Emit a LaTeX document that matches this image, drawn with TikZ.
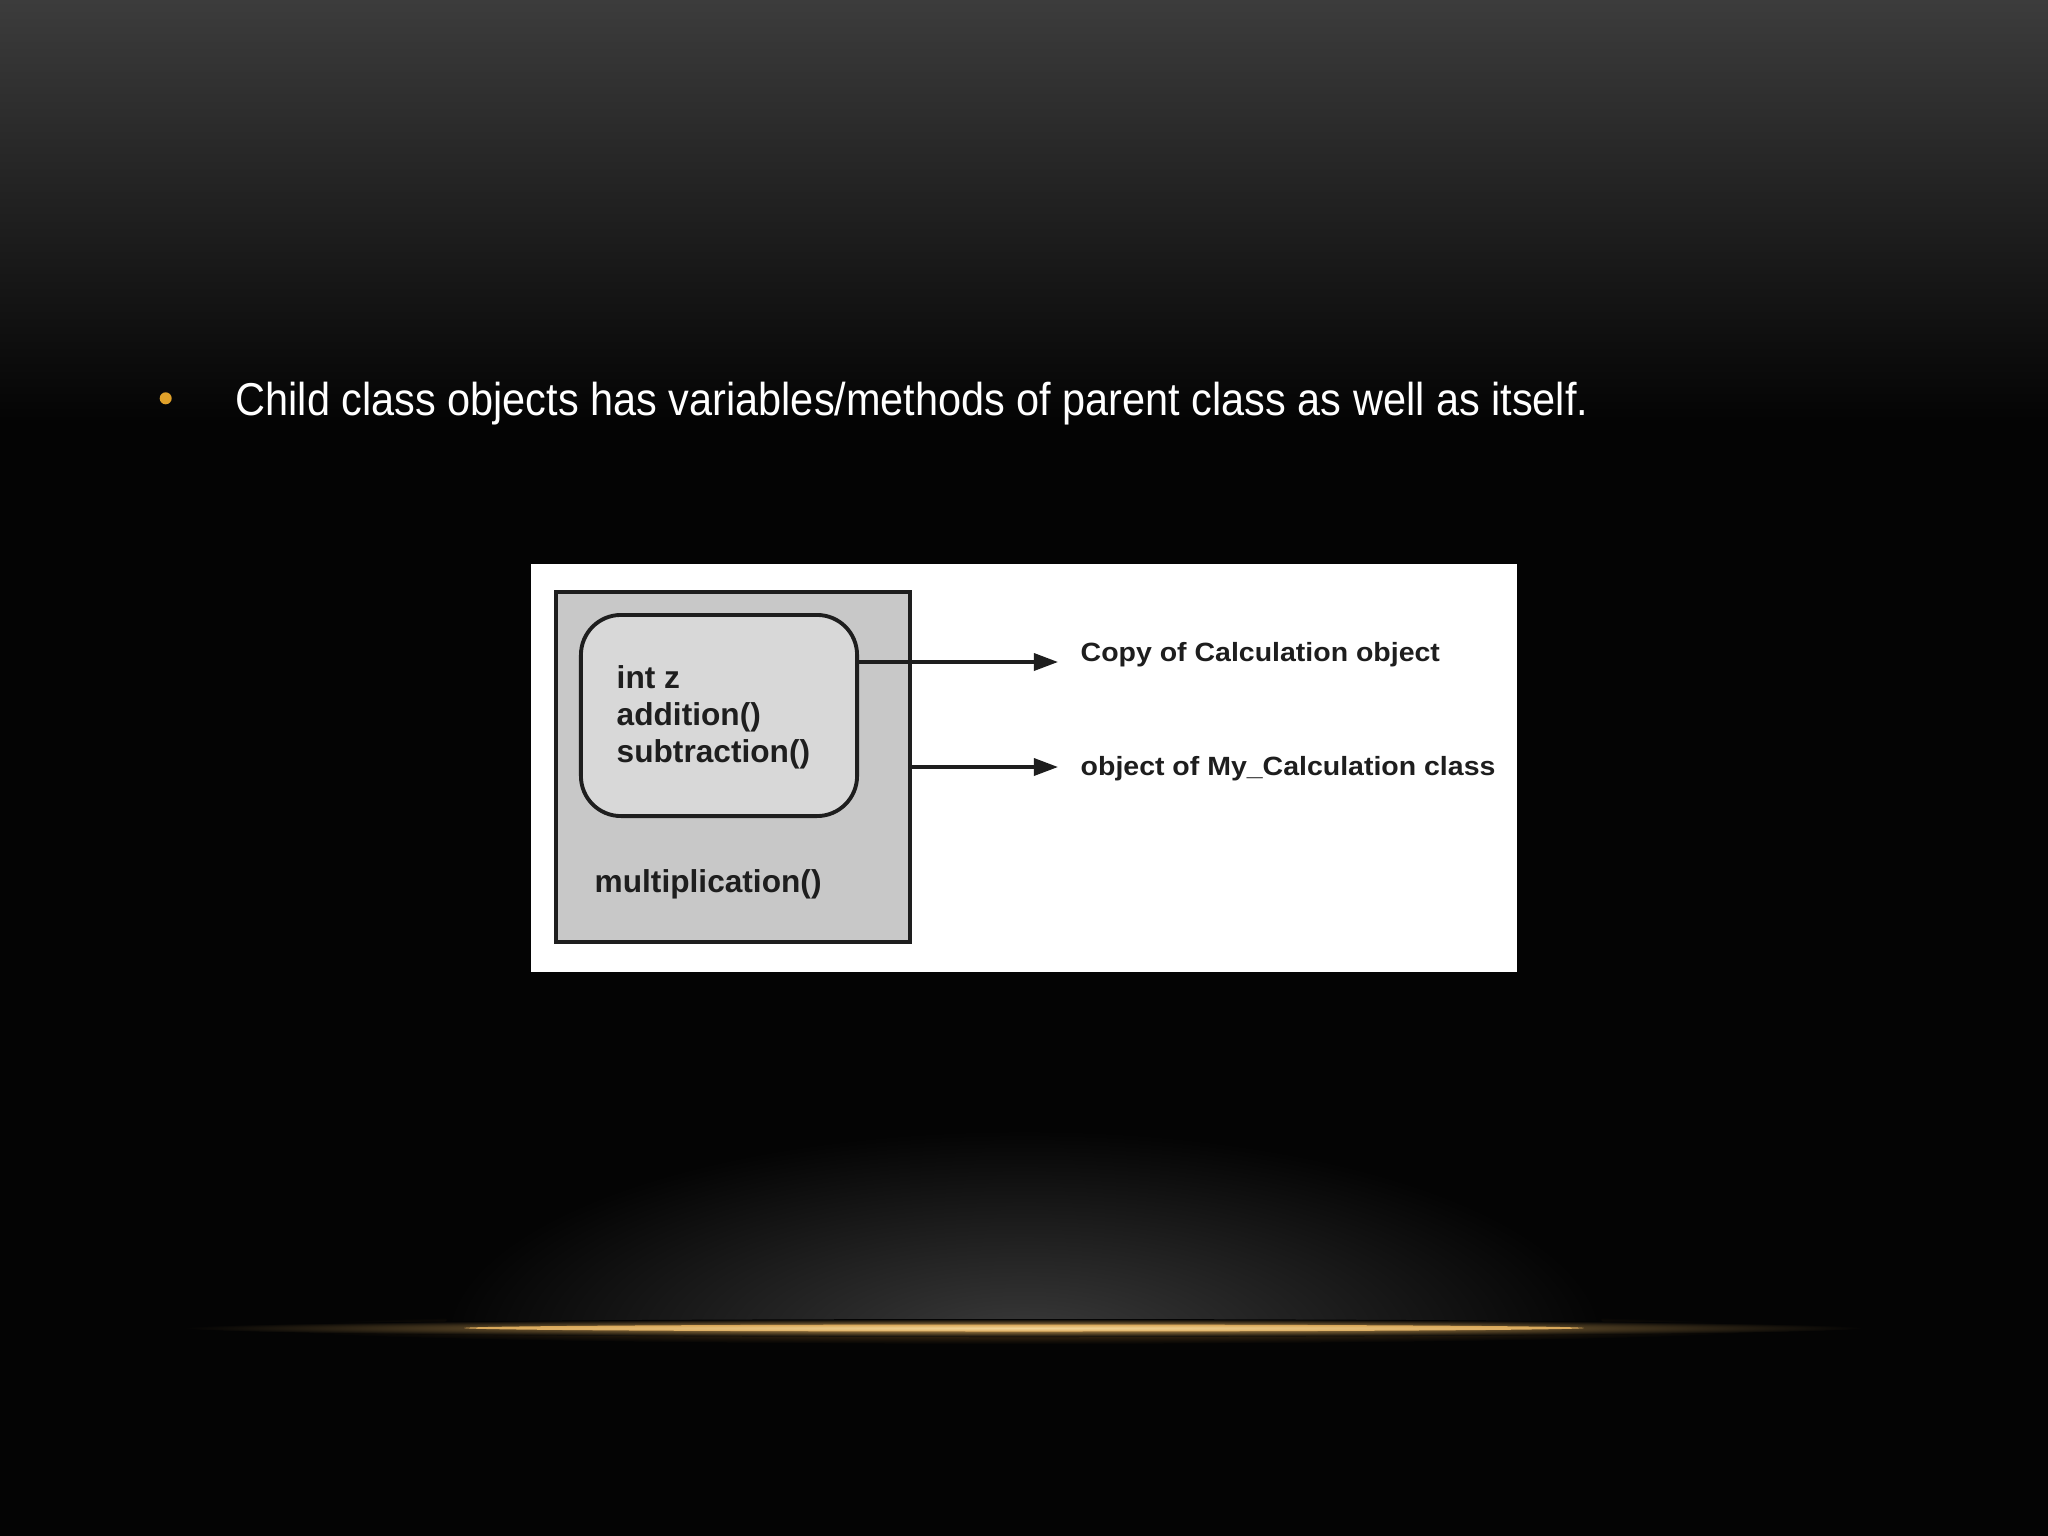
\documentclass[tikz,border=0pt]{standalone}
\usepackage{fontspec}
\setmainfont{Liberation Sans}
\newfontfamily\claimfont[FakeStretch=0.9]{Liberation Sans}
\newfontfamily\labelfont[FakeStretch=1.08]{Liberation Sans}
\usetikzlibrary{arrows.meta}

\definecolor{bgtop}{HTML}{3C3C3C}
\definecolor{bgmid}{HTML}{1C1C1C}
\definecolor{bgblack}{HTML}{040404}
\definecolor{glowgray}{HTML}{3A3A3A}
\definecolor{goldglow}{HTML}{5A3E1A}
\definecolor{goldline}{HTML}{D9A85A}
\definecolor{goldcore}{HTML}{F2D598}
\definecolor{bulletorange}{HTML}{E0A12A}
\definecolor{parentgray}{HTML}{C8C8C8}
\definecolor{childgray}{HTML}{D8D8D8}
\definecolor{edgeblack}{HTML}{1E1E1E}

\begin{document}
\begin{tikzpicture}[x=0.01cm, y=-0.01cm]
\tikzstyle{parent_box}=[rectangle, draw=edgeblack, fill=parentgray, line width=1.15pt, minimum width=3.54cm, minimum height=3.5cm];
\tikzstyle{child_box}=[rectangle, rounded corners=0.4cm, draw=edgeblack, fill=childgray, line width=1.1pt, minimum width=2.76cm, minimum height=2.01cm];
\tikzstyle{member}=[inner sep=0pt, text=edgeblack, font=\fontsize{9}{10.5}\selectfont\bfseries, align=left];
\tikzstyle{caption}=[inner sep=0pt, anchor=base west, text=edgeblack, font=\labelfont\fontsize{7.5}{9}\selectfont\bfseries];
\tikzstyle{arrow}=[-{Triangle[length=0.24cm, width=0.17cm]}, line width=0.95pt, draw=edgeblack];

% slide background
\useasboundingbox (0,0) rectangle (2048,1536);
\fill[bgblack] (0,0) rectangle (2048,1536);
\shade[top color=bgtop, middle color=bgmid, bottom color=bgblack] (0,0) rectangle (2048,420);

% glow over the gold line
\shade[inner color=goldglow, outer color=bgblack] (1024,1328) ellipse (760 and 16);
\begin{scope}
\clip (0,1000) rectangle (2048,1324);
\shade[inner color=glowgray, outer color=bgblack] (1024,1340) ellipse (580 and 210);
\end{scope}
\shade[inner color=goldline, outer color=bgblack] (1024,1328) ellipse (840 and 9);
\shade[inner color=goldcore, outer color=goldline] (1024,1328) ellipse (560 and 3.5);

% bullet
\node[circle, fill=bulletorange, minimum size=0.12cm, inner sep=0pt] (dot) at (165.7,398.3) {};
\node[anchor=base west, inner sep=0pt, text=white, font=\claimfont\fontsize{13.1}{15}\selectfont] (claim) at (235,415) {Child class objects has variables/methods of parent class as well as itself.};

% picture panel
\node[fill=white, minimum width=9.85cm, minimum height=4.08cm, inner sep=0pt] (panel) at (1024,768) {};

\node [parent_box] (parent) at (733,767) {};
\node [child_box] (child) at (719,715.5) {};
\node [member, anchor=north west] (inherited) at (616,665) {int z\\addition()\\subtraction()};
\node [member, anchor=base west] (own) at (594,892) {multiplication()};

\node [caption] (copy) at (1080,661) {Copy of Calculation object};
\node [caption] (object) at (1080,775) {object of My\_Calculation class};

\coordinate (tip1) at (1058,662);
\coordinate (tip2) at (1058,767);
\draw[arrow] (child.east |- tip1) -- (tip1);
\draw[arrow] (parent.east |- tip2) -- (tip2);

\end{tikzpicture}
\end{document}
